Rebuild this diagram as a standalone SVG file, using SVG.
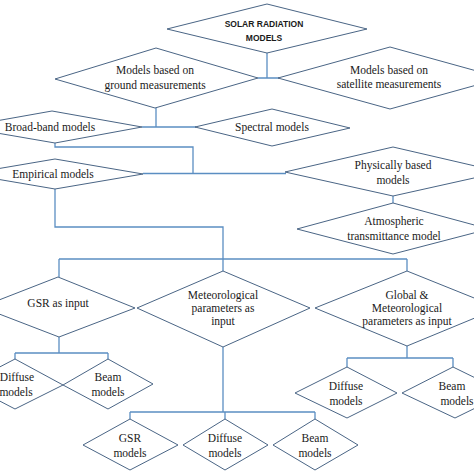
<svg xmlns="http://www.w3.org/2000/svg" width="474" height="474" viewBox="0 0 474 474">
<style>
.d{fill:#fff;stroke:#4a6585;stroke-width:1}
.c{fill:none;stroke:#5b8ec2;stroke-width:1.3}
.t{font-family:"Liberation Serif","DejaVu Serif",serif;font-size:11.5px;fill:#1a1a1a;text-anchor:middle}
.b{font-family:"Liberation Sans",Arial,sans-serif;font-weight:bold;font-size:8.5px;fill:#1a1a1a;text-anchor:middle}
</style>
<rect width="474" height="474" fill="#fff"/>
<g id="connectors">
<path class="c" d="M267 53V78M258 78H279"/>
<path class="c" d="M156 108V127M142 127H196"/>
<path class="c" d="M55 143V147H193V173M143 173.5H286"/>
<path class="c" d="M393 196V203"/>
<path class="c" d="M55 189V227H223V260M59 259H407M59 259V277M223 260V271M407 259V271"/>
<path class="c" d="M59 337V353M15 353H108M15 353V359M108 353V359"/>
<path class="c" d="M223 347V412M130 412H315M130 412V419M225 412V419M315 412V419"/>
<path class="c" d="M407 346V358M347 358H453M347 358V367M453 358V367"/>
</g>
<g id="n-solar"><polygon class="d" points="167,29 267,4 367,29 267,53"/><text class="b" x="264" y="27">SOLAR RADIATION</text><text class="b" x="264" y="41">MODELS</text></g>
<g id="n-ground"><polygon class="d" points="55,79 156,48 258,78 155,108"/><text class="t" x="155" y="74">Models based on</text><text class="t" x="155" y="89">ground measurements</text></g>
<g id="n-satellite"><polygon class="d" points="278,78 390,47 502,78 390,109"/><text class="t" x="389" y="74">Models based on</text><text class="t" x="389" y="88">satellite measurements</text></g>
<g id="n-broadband"><polygon class="d" points="-38,127 52,111 142,127 55,143"/><text class="t" x="50" y="131">Broad-band models</text></g>
<g id="n-spectral"><polygon class="d" points="195,127 272,109 350,128 272,146"/><text class="t" x="272" y="131">Spectral models</text></g>
<g id="n-empirical"><polygon class="d" points="-33,174 55,159 143,174 55,189"/><text class="t" x="53" y="178">Empirical models</text></g>
<g id="n-physical"><polygon class="d" points="285,172 393,147 501,172 393,196"/><text class="t" x="393" y="169">Physically based</text><text class="t" x="393" y="184">models</text></g>
<g id="n-atmos"><polygon class="d" points="297,229 393,203 489,229 393,254"/><text class="t" x="394" y="225">Atmospheric</text><text class="t" x="394" y="240">transmittance model</text></g>
<g id="n-gsrin"><polygon class="d" points="-19,307 58,277 135,308 59,337"/><text class="t" x="58" y="307">GSR as input</text></g>
<g id="n-meteo"><polygon class="d" points="137,308 223,271 310,308 223,347"/><text class="t" x="223" y="299">Meteorological</text><text class="t" x="223" y="312">parameters as</text><text class="t" x="223" y="325">input</text></g>
<g id="n-global"><polygon class="d" points="315,308 407,271 499,308 407,346"/><text class="t" x="407" y="299">Global &amp;</text><text class="t" x="407" y="312">Meteorological</text><text class="t" x="407" y="325">parameters as input</text></g>
<g id="n-diffuse1"><polygon class="d" points="-33,384 15,359 63,385 15,409"/><text class="t" x="17" y="381">Diffuse</text><text class="t" x="16" y="396">models</text></g>
<g id="n-beam1"><polygon class="d" points="63,385 108,359 153,384 108,409"/><text class="t" x="108" y="381">Beam</text><text class="t" x="108" y="396">models</text></g>
<g id="n-gsrm"><polygon class="d" points="83,445 130,419 178,445 130,470"/><text class="t" x="130" y="442">GSR</text><text class="t" x="130" y="457">models</text></g>
<g id="n-diffuse2"><polygon class="d" points="183,445 225,419 268,445 225,470"/><text class="t" x="225" y="442">Diffuse</text><text class="t" x="225" y="457">models</text></g>
<g id="n-beam2"><polygon class="d" points="273,445 315,419 358,445 315,470"/><text class="t" x="315" y="442">Beam</text><text class="t" x="315" y="457">models</text></g>
<g id="n-diffuse3"><polygon class="d" points="295,393 347,367 397,393 347,418"/><text class="t" x="346" y="390">Diffuse</text><text class="t" x="346" y="405">models</text></g>
<g id="n-beam3"><polygon class="d" points="402,393 453,367 506,393 455,418"/><text class="t" x="452" y="390">Beam</text><text class="t" x="457" y="405">models</text></g>
</svg>
